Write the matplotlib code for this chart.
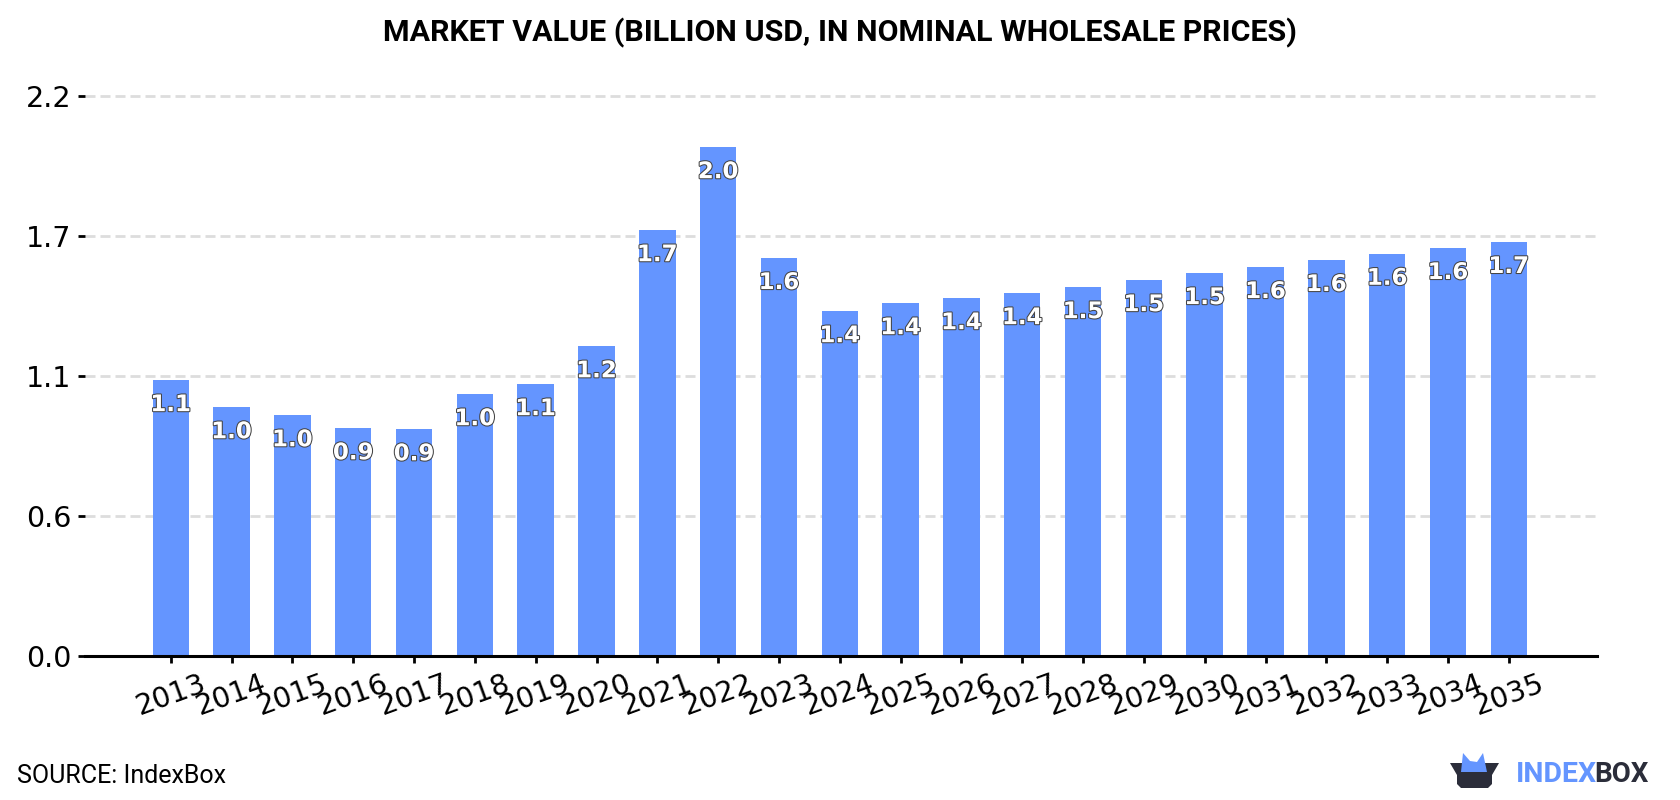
import matplotlib
matplotlib.use("Agg")
import matplotlib.pyplot as plt
import matplotlib.patheffects as pe
from matplotlib.patches import Polygon

W, H = 1680, 800
years = list(range(2013, 2036))
values = [1.101, 0.993, 0.961, 0.909, 0.905, 1.045, 1.085, 1.236, 1.699, 2.030, 1.588,
          1.376, 1.408, 1.428, 1.448, 1.472, 1.500, 1.528, 1.552, 1.580, 1.605, 1.628, 1.652]
y_ticks = [0.0, 0.558, 1.117, 1.675, 2.233]
y_labels = ["0.0", "0.6", "1.1", "1.7", "2.2"]
title = "MARKET VALUE (BILLION USD, IN NOMINAL WHOLESALE PRICES)"
source = "SOURCE: IndexBox"

BLUE = "#6495ff"
DARK = "#2b2d3a"

fig = plt.figure(figsize=(W / 100, H / 100), dpi=100, facecolor="white")
ax = fig.add_axes([85 / W, (H - 656) / H, (1597 - 85) / W, (656 - 60) / H])

ax.set_axisbelow(True)
ax.grid(axis="y", color="#dddddd", lw=2.0, linestyle=(0, (3.6, 1.8)))
ax.bar(years, values, width=0.6, color=BLUE, zorder=2)

ax.set_xlim(2013 - 1.41, 2035 + 1.45)
ax.set_ylim(0, 2.377)
ax.set_yticks(y_ticks, y_labels)
ax.set_xticks(years, [str(y) for y in years], rotation=20, ha="center")
ax.tick_params(axis="both", labelsize=20.5, width=2.0, length=5, color="black", pad=5)

for side in ("top", "left", "right"):
    ax.spines[side].set_visible(False)
ax.spines["bottom"].set_linewidth(2.2)

for year, value in zip(years, values):
    ax.annotate(f"{value:.1f}", (year, value), xytext=(0, -17.8), textcoords="offset points",
                ha="center", va="center", fontsize=16.5, fontweight="bold", color="white",
                zorder=3, path_effects=[pe.withStroke(linewidth=1.5, foreground="#444444")])

def px(x, y):
    return x / W, (H - y) / H

fig.text(*px(840, 32.5), title, ha="center", va="center", family="Roboto",
         fontweight="bold", fontsize=21.9, color="black")
fig.text(*px(17, 776), source, ha="left", va="center", family="Roboto",
         fontsize=18, color="black")

# Wordmark
fig.text(*px(1516, 782), "INDEX", ha="left", va="baseline", family="Roboto",
         fontweight="bold", fontsize=20.5, color=BLUE)
fig.text(*px(1649, 782), "BOX", ha="right", va="baseline", family="Roboto",
         fontweight="bold", fontsize=20, color=DARK)

# Box emblem
box = [(1450, 763), (1499, 763), (1492, 775), (1492, 784), (1488, 788), (1461, 788),
       (1457, 784), (1457, 775)]
flaps = [(1461, 772), (1463, 753), (1470, 761), (1477, 762), (1483, 753), (1487, 772),
         (1476, 772), (1474, 772), (1470, 772)]
fig.add_artist(Polygon([px(*p) for p in box], closed=True, facecolor=DARK, edgecolor="none",
                       transform=fig.transFigure))
fig.add_artist(Polygon([px(*p) for p in flaps], closed=True, facecolor=BLUE, edgecolor="none",
                       transform=fig.transFigure))

fig.savefig("out.png", dpi=100)
